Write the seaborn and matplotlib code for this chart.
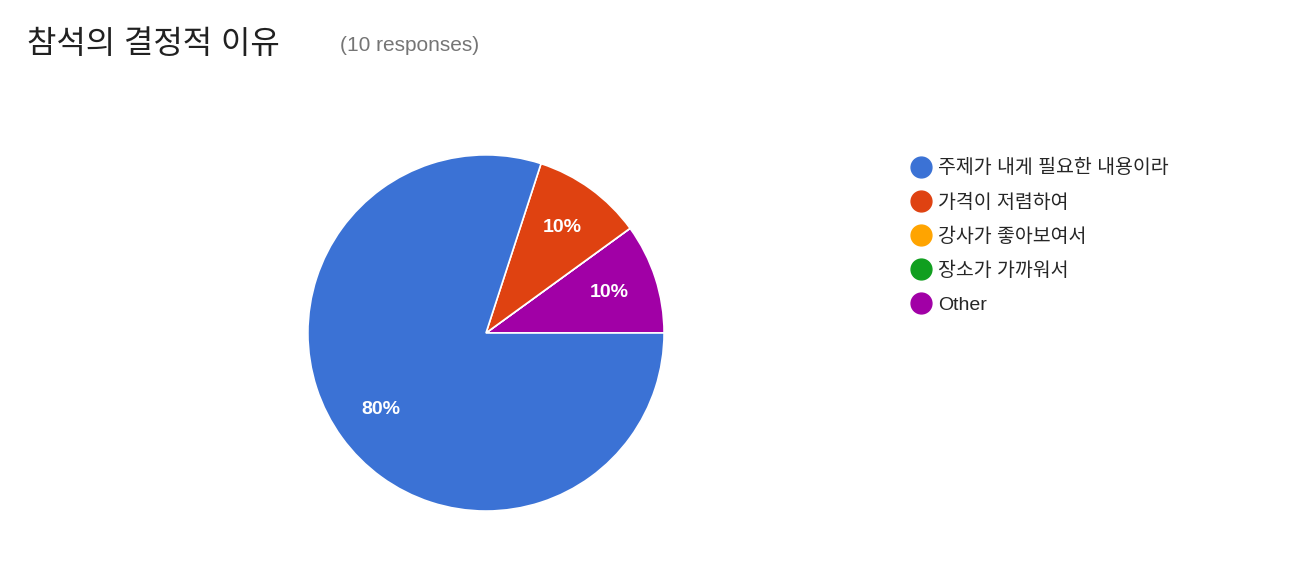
import matplotlib
matplotlib.use("Agg")
import matplotlib.pyplot as plt
import seaborn as sns
from matplotlib.lines import Line2D

sns.set_theme(style="white")
plt.rcParams['font.family'] = ['Liberation Sans', 'Noto Sans CJK KR', 'DejaVu Sans']

# data (legend order)
labels = ["주제가 내게 필요한 내용이라", "가격이 저렴하여", "강사가 좋아보여서", "장소가 가까워서", "Other"]
counts = [8, 1, 0, 0, 1]
colors = ["#3b72d5", "#df4211", "#ffa400", "#109f1f", "#a100a6"]

fig = plt.figure(figsize=(13.08, 5.82), dpi=100)
ax = fig.add_axes([0.3716 - 0.1369, 0.428 - 0.3076, 0.2737, 0.615])

# draw counter-clockwise from 3 o'clock: Other, ..., blue
order = list(range(len(counts)))[::-1]
ax.pie([counts[i] for i in order], colors=[colors[i] for i in order],
       startangle=0, counterclock=True,
       autopct=lambda p: f"{p:.0f}%" if p > 0 else "",
       pctdistance=0.73,
       wedgeprops=dict(edgecolor="white", linewidth=1.2),
       textprops=dict(color="white", fontsize=14, fontweight="bold"))
ax.set_xlim(-1.005, 1.005)
ax.set_ylim(-1.005, 1.005)
ax.set_aspect("equal")

fig.text(0.021, 0.922, "참석의 결정적 이유", fontsize=23, va="center", color="#212121")
fig.text(0.26, 0.922, "(10 responses)", fontsize=15, va="center", color="#757575")

handles = [Line2D([0], [0], marker="o", linestyle="", markersize=15,
                  markerfacecolor=c, markeredgecolor=c) for c in colors]
fig.legend(handles, labels, loc="upper left", bbox_to_anchor=(0.688, 0.743),
           frameon=False, fontsize=14, labelspacing=0.82, handletextpad=0.25,
           borderpad=0, handlelength=1.2)

fig.savefig("out.png", dpi=100)
